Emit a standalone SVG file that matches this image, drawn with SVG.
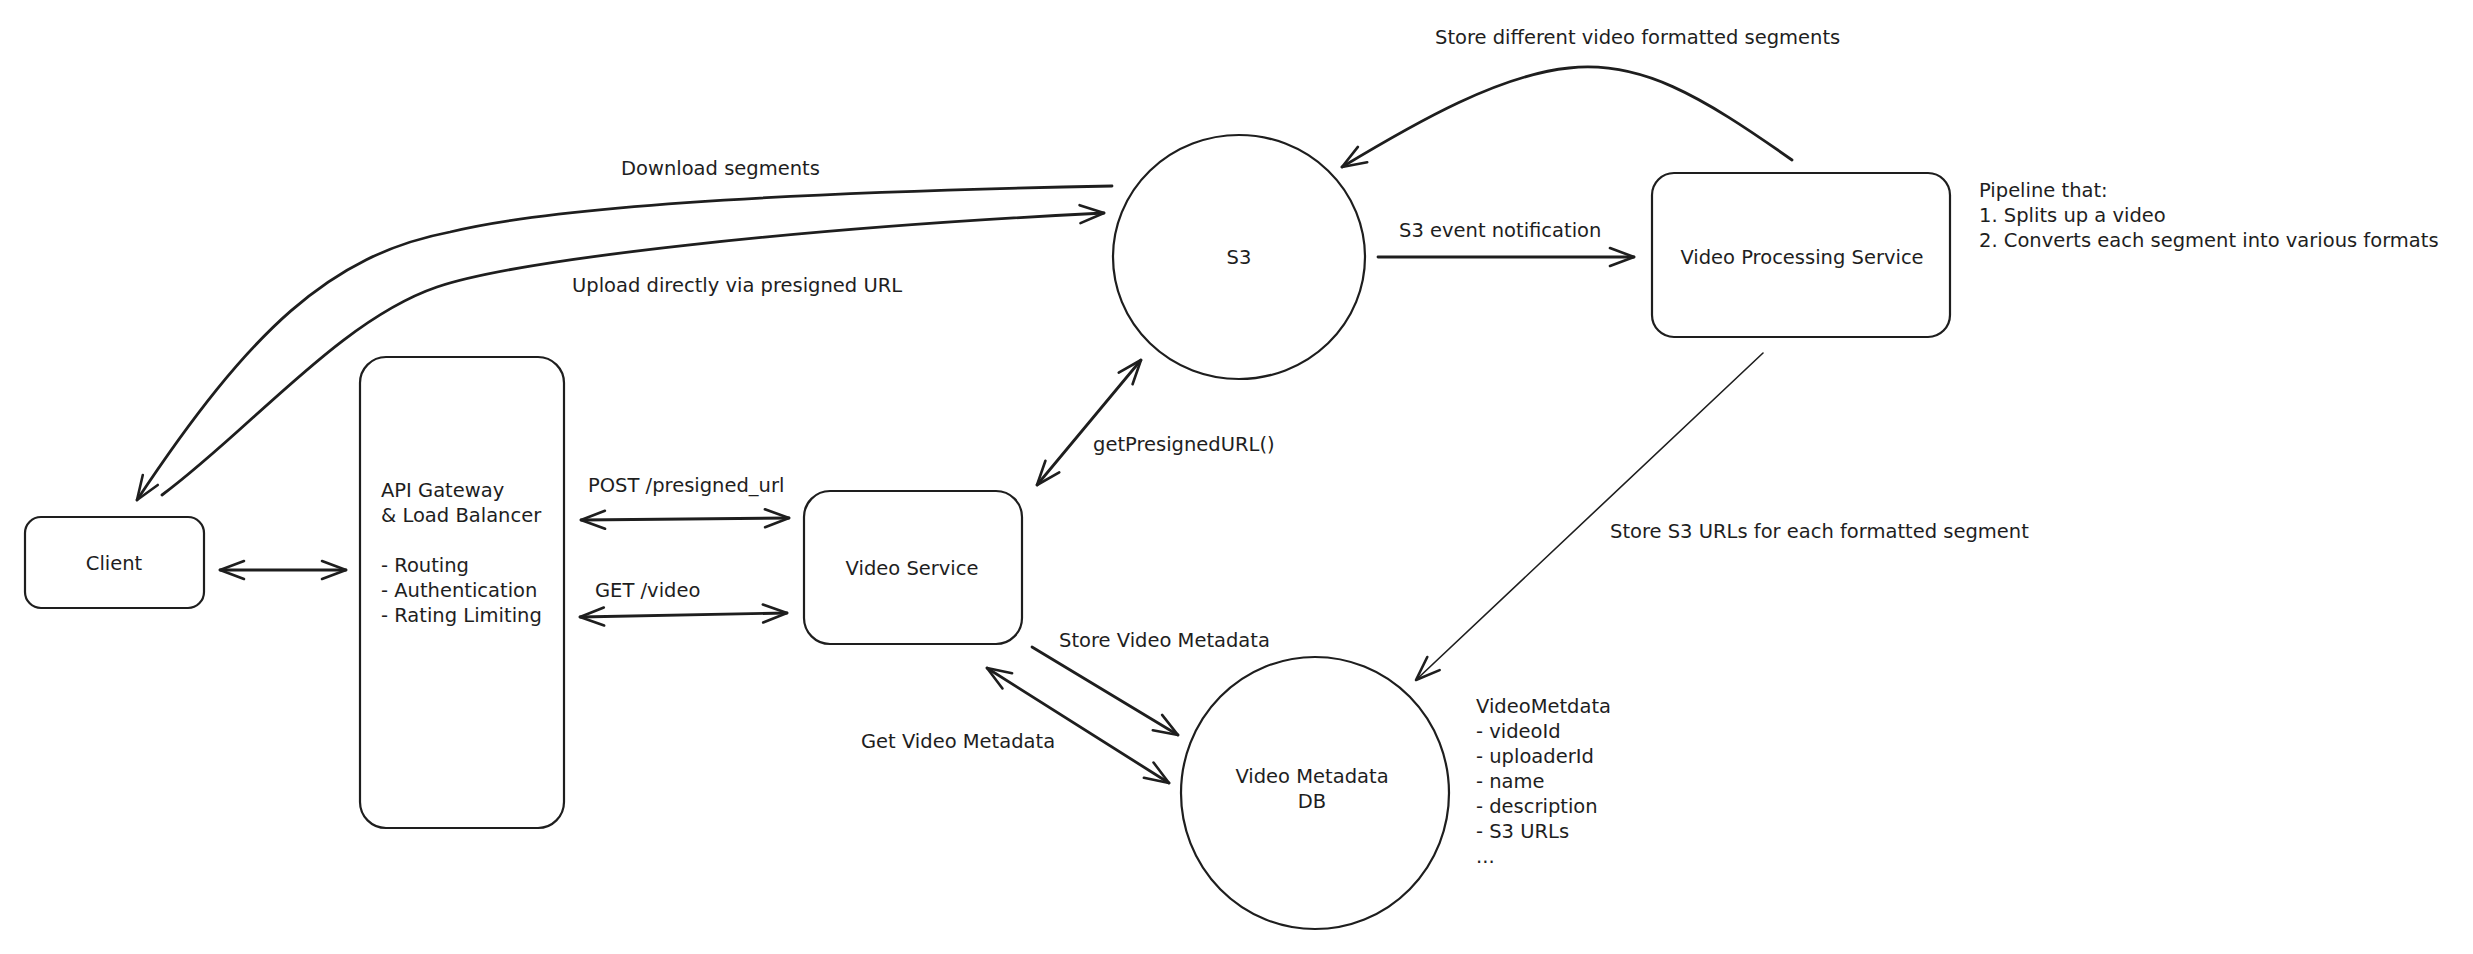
<svg xmlns="http://www.w3.org/2000/svg" width="2473" height="954" viewBox="0 0 2473 954">
<style>
.bg{fill:#ffffff}
.node{fill:none;stroke:#1e1e1e;stroke-width:2.2}
.t{font-family:"DejaVu Sans","Liberation Sans",Arial,sans-serif;font-size:19.5px;fill:#1e1e1e}
.c{text-anchor:middle}
.edge{fill:none;stroke:#1e1e1e;stroke-width:2.8;stroke-linecap:round}
.thin{stroke-width:1.6}
</style>
<defs>
<marker id="ah" viewBox="0 0 28 24" refX="26" refY="12" markerWidth="28" markerHeight="24" markerUnits="userSpaceOnUse" orient="auto-start-reverse">
<path d="M2,3 L26,12 L2,21" fill="none" stroke="#1e1e1e" stroke-width="2.6" stroke-linecap="round" stroke-linejoin="round"/>
</marker>
</defs>
<rect class="bg" x="0" y="0" width="2473" height="954"/>

<g id="client">
<rect class="node" x="25" y="517" width="179" height="91" rx="16"/>
<text class="t c" x="114" y="570">Client</text>
</g>

<g id="api-gateway">
<rect class="node" x="360" y="357" width="204" height="471" rx="26"/>
<text class="t" x="381" y="497">API Gateway</text>
<text class="t" x="381" y="522">&amp; Load Balancer</text>
<text class="t" x="381" y="572">- Routing</text>
<text class="t" x="381" y="597">- Authentication</text>
<text class="t" x="381" y="622">- Rating Limiting</text>
</g>

<g id="video-service">
<rect class="node" x="804" y="491" width="218" height="153" rx="26"/>
<text class="t c" x="912" y="575">Video Service</text>
</g>

<g id="s3">
<ellipse class="node" cx="1239" cy="257" rx="126" ry="122"/>
<text class="t c" x="1239" y="264">S3</text>
</g>

<g id="video-processing">
<rect class="node" x="1652" y="173" width="298" height="164" rx="22"/>
<text class="t c" x="1802" y="264">Video Processing Service</text>
</g>

<g id="pipeline-note">
<text class="t" x="1979" y="197">Pipeline that:</text>
<text class="t" x="1979" y="222">1. Splits up a video</text>
<text class="t" x="1979" y="247">2. Converts each segment into various formats</text>
</g>

<g id="metadata-db">
<ellipse class="node" cx="1315" cy="793" rx="134" ry="136"/>
<text class="t c" x="1312" y="783">Video Metadata</text>
<text class="t c" x="1312" y="808">DB</text>
</g>

<g id="metadata-note">
<text class="t" x="1476" y="713">VideoMetdata</text>
<text class="t" x="1476" y="738">- videoId</text>
<text class="t" x="1476" y="763">- uploaderId</text>
<text class="t" x="1476" y="788">- name</text>
<text class="t" x="1476" y="813">- description</text>
<text class="t" x="1476" y="838">- S3 URLs</text>
<text class="t" x="1476" y="863">...</text>
</g>

<g id="connectors">
<path class="edge" d="M220,570 L346,570" marker-start="url(#ah)" marker-end="url(#ah)"/>
<path class="edge" d="M581,520 L789,518" marker-start="url(#ah)" marker-end="url(#ah)"/>
<text class="t" x="588" y="492">POST /presigned_url</text>
<path class="edge" d="M580,617 L787,613" marker-start="url(#ah)" marker-end="url(#ah)"/>
<text class="t" x="595" y="597">GET /video</text>
<path class="edge" d="M1037,485 L1141,360" marker-start="url(#ah)" marker-end="url(#ah)"/>
<text class="t" x="1093" y="451">getPresignedURL()</text>
<path class="edge" d="M1378,257 L1634,257" marker-end="url(#ah)"/>
<text class="t" x="1399" y="237">S3 event notification</text>
<path class="edge" d="M1792,160 C1700,95 1640,60 1569,68 C1500,75 1420,120 1342,167" marker-end="url(#ah)"/>
<text class="t" x="1435" y="44">Store different video formatted segments</text>
<path class="edge" d="M1112,186 C800,192 560,205 450,232 C330,255 250,330 137,500" marker-end="url(#ah)"/>
<text class="t" x="621" y="175">Download segments</text>
<path class="edge" d="M162,495 C250,430 340,320 437,287 C520,259 800,228 1104,213" marker-end="url(#ah)"/>
<text class="t" x="572" y="292">Upload directly via presigned URL</text>
<path class="edge thin" d="M1763,353 L1416,680" marker-end="url(#ah)"/>
<text class="t" x="1610" y="538">Store S3 URLs for each formatted segment</text>
<path class="edge" d="M1032,647 L1178,735" marker-end="url(#ah)"/>
<text class="t" x="1059" y="647">Store Video Metadata</text>
<path class="edge" d="M987,668 L1169,783" marker-start="url(#ah)" marker-end="url(#ah)"/>
<text class="t" x="861" y="748">Get Video Metadata</text>
</g>
</svg>
